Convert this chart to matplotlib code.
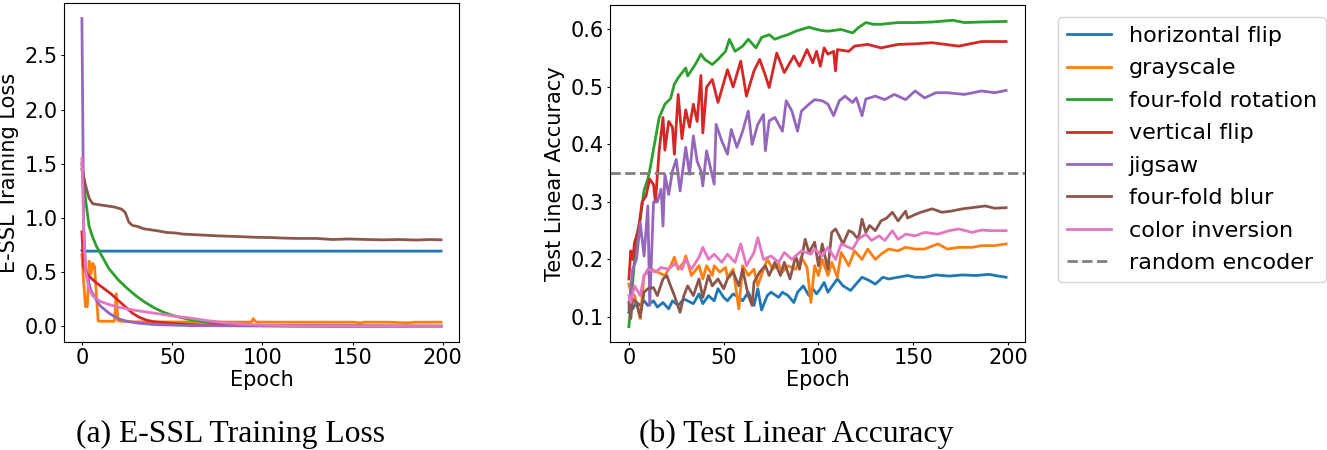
import matplotlib
matplotlib.use("Agg")
import matplotlib.pyplot as plt

plt.rcParams['font.family'] = ['DejaVu Sans']
plt.rcParams['font.size'] = 15
plt.rcParams['xtick.major.size'] = 2.5
plt.rcParams['ytick.major.size'] = 2.5
plt.rcParams['xtick.major.pad'] = 2
plt.rcParams['ytick.major.pad'] = 2

labels = ["horizontal flip", "grayscale", "four-fold rotation", "vertical flip",
          "jigsaw", "four-fold blur", "color inversion"]
colors = ["tab:blue", "tab:orange", "tab:green", "tab:red",
          "tab:purple", "tab:brown", "tab:pink"]

##### (a) training loss

hflip_loss_ep = [0, 1, 2, 199]
hflip_loss = [0.70, 0.695, 0.693, 0.693]

gray_loss_ep = [0, 1, 2, 3, 4, 5, 6, 7, 8, 9, 10, 14, 18, 19, 20, 22, 30, 40, 60, 80,
                94, 95, 96, 97, 110, 150, 155, 156, 170, 180, 185, 199]
gray_loss = [0.66, 0.40, 0.18, 0.18, 0.60, 0.48, 0.58, 0.55, 0.30, 0.05, 0.045, 0.045,
             0.045, 0.30, 0.05, 0.045, 0.04, 0.04, 0.038, 0.038, 0.038, 0.07, 0.045,
             0.038, 0.037, 0.037, 0.03, 0.037, 0.037, 0.03, 0.037, 0.037]

rot_loss_ep = [0, 1, 2, 4, 6, 8, 10, 15, 20, 25, 30, 35, 40, 45, 50, 55, 60, 70, 80,
               90, 100, 120, 199]
rot_loss = [1.5, 1.35, 1.17, 0.92, 0.82, 0.74, 0.68, 0.53, 0.43, 0.35, 0.28, 0.22,
            0.17, 0.13, 0.10, 0.08, 0.06, 0.035, 0.018, 0.01, 0.005, 0.002, 0.0]

vflip_loss_ep = [0, 1, 2, 4, 8, 12, 16, 20, 24, 28, 32, 36, 40, 50, 60, 80, 199]
vflip_loss = [0.87, 0.55, 0.50, 0.46, 0.40, 0.35, 0.30, 0.24, 0.18, 0.12, 0.08,
              0.055, 0.04, 0.025, 0.015, 0.005, 0.0]

jig_loss_ep = [0, 1, 2, 3, 5, 8, 10, 15, 20, 25, 30, 40, 60, 199]
jig_loss = [2.84, 0.9, 0.55, 0.45, 0.33, 0.24, 0.19, 0.12, 0.07, 0.045, 0.03,
            0.015, 0.005, -0.004]

blur_loss_ep = [0, 1, 2, 4, 6, 10, 14, 18, 22, 24, 26, 28, 31, 34, 38, 42, 47, 52, 56,
                62, 68, 75, 82, 90, 97, 105, 112, 120, 130, 139, 148, 158, 167, 176,
                185, 193, 199]
blur_loss = [1.45, 1.38, 1.30, 1.18, 1.13, 1.12, 1.11, 1.10, 1.08, 1.05, 0.96, 0.93,
             0.92, 0.90, 0.89, 0.88, 0.865, 0.86, 0.85, 0.845, 0.84, 0.834, 0.83,
             0.825, 0.82, 0.818, 0.813, 0.81, 0.81, 0.80, 0.805, 0.80, 0.797, 0.80,
             0.795, 0.80, 0.797]

inv_loss_ep = [0, 1, 2, 4, 6, 10, 15, 20, 25, 30, 40, 50, 60, 70, 80, 90, 100, 120, 199]
inv_loss = [1.55, 0.9, 0.5, 0.34, 0.28, 0.23, 0.20, 0.175, 0.16, 0.145, 0.12, 0.095,
            0.075, 0.05, 0.03, 0.018, 0.01, 0.003, -0.004]

##### (b) test linear accuracy

hflip_acc_ep = [0, 1, 2, 4, 6, 8, 10, 13, 15, 18, 21, 23, 26, 29, 31, 34, 37, 39, 42,
                45, 47, 50, 52, 55, 58, 60, 63, 66, 68, 70, 73, 75, 79, 81, 84, 87, 89,
                92, 95, 97, 99, 101, 103, 105, 108, 110, 113, 117, 119, 123, 127, 130,
                134, 137, 142, 147, 151, 156, 162, 169, 176, 183, 190, 195, 199]
hflip_acc = [0.108, 0.12, 0.114, 0.125, 0.12, 0.128, 0.12, 0.128, 0.117, 0.125, 0.114,
             0.128, 0.12, 0.131, 0.128, 0.123, 0.14, 0.123, 0.137, 0.128, 0.149, 0.134,
             0.128, 0.14, 0.134, 0.128, 0.143, 0.12, 0.149, 0.112, 0.137, 0.143, 0.134,
             0.143, 0.137, 0.125, 0.143, 0.154, 0.137, 0.149, 0.14, 0.149, 0.16, 0.143,
             0.157, 0.166, 0.154, 0.146, 0.154, 0.169, 0.163, 0.157, 0.169, 0.166,
             0.169, 0.172, 0.169, 0.169, 0.173, 0.171, 0.173, 0.172, 0.174, 0.171,
             0.169]

gray_acc_ep = [0, 1, 3, 5, 6, 8, 10, 12, 15, 19, 22, 24, 26, 29, 30, 33, 37, 39, 41, 44,
               45, 48, 51, 52, 55, 58, 60, 63, 66, 68, 71, 73, 76, 79, 81, 84, 88, 91,
               94, 96, 98, 100, 102, 105, 107, 110, 112, 116, 119, 123, 126, 130, 133,
               137, 142, 146, 151, 156, 163, 168, 174, 181, 186, 193, 199]
gray_acc = [0.157, 0.143, 0.137, 0.111, 0.097, 0.172, 0.178, 0.183, 0.178, 0.172,
            0.189, 0.204, 0.183, 0.195, 0.206, 0.172, 0.189, 0.166, 0.189, 0.172, 0.189,
            0.178, 0.186, 0.169, 0.183, 0.114, 0.189, 0.172, 0.183, 0.154, 0.183, 0.2,
            0.183, 0.192, 0.178, 0.189, 0.183, 0.204, 0.186, 0.125, 0.189, 0.172, 0.2,
            0.172, 0.195, 0.169, 0.212, 0.189, 0.215, 0.2, 0.218, 0.2, 0.209, 0.218,
            0.215, 0.221, 0.218, 0.218, 0.227, 0.218, 0.221, 0.221, 0.224, 0.224,
            0.227]

rot_acc_ep = [0, 2, 4, 6, 8, 10, 11, 14, 16, 19, 22, 24, 26, 30, 31, 35, 38, 40, 44,
              47, 51, 53, 56, 60, 63, 67, 70, 74, 77, 81, 84, 88, 91, 95, 98, 102, 105,
              112, 118, 121, 125, 129, 133, 142, 151, 160, 171, 177, 186, 199]
rot_acc = [0.083, 0.16, 0.24, 0.27, 0.32, 0.34, 0.355, 0.41, 0.447, 0.47, 0.48, 0.505,
           0.516, 0.533, 0.519, 0.539, 0.557, 0.548, 0.539, 0.548, 0.562, 0.583, 0.562,
           0.571, 0.583, 0.568, 0.586, 0.591, 0.583, 0.588, 0.591, 0.597, 0.6, 0.604,
           0.601, 0.598, 0.597, 0.6, 0.594, 0.603, 0.612, 0.609, 0.609, 0.612, 0.612,
           0.613, 0.616, 0.612, 0.613, 0.614]

vflip_acc_ep = [0, 1, 2, 3, 5, 7, 9, 11, 13, 14, 16, 18, 19, 21, 23, 24, 26, 28, 30,
                32, 34, 36, 38, 39, 41, 44, 47, 50, 52, 55, 59, 62, 66, 69, 72, 74, 78,
                82, 87, 90, 94, 97, 99, 101, 103, 105, 108, 109, 110, 116, 119, 126,
                133, 142, 151, 160, 174, 186, 199]
vflip_acc = [0.166, 0.215, 0.20, 0.23, 0.25, 0.30, 0.31, 0.34, 0.33, 0.30, 0.39, 0.447,
             0.39, 0.44, 0.43, 0.383, 0.487, 0.41, 0.46, 0.43, 0.47, 0.44, 0.52, 0.42,
             0.50, 0.513, 0.473, 0.507, 0.53, 0.50, 0.545, 0.484, 0.528, 0.548, 0.52,
             0.499, 0.559, 0.525, 0.554, 0.536, 0.565, 0.542, 0.562, 0.536, 0.568,
             0.557, 0.562, 0.528, 0.565, 0.562, 0.571, 0.574, 0.568, 0.574, 0.575,
             0.577, 0.571, 0.579, 0.579]

jig_acc_ep = [0, 2, 4, 6, 8, 10, 11, 13, 15, 17, 18, 19, 21, 23, 25, 27, 30, 32, 34, 36,
              38, 39, 41, 43, 45, 46, 49, 52, 54, 57, 60, 63, 65, 68, 71, 72, 74, 77,
              81, 83, 86, 89, 91, 95, 98, 102, 105, 108, 111, 114, 118, 120, 123, 125,
              130, 135, 140, 146, 151, 156, 162, 168, 177, 186, 193, 199]
jig_acc = [0.114, 0.183, 0.20, 0.264, 0.206, 0.293, 0.12, 0.30, 0.30, 0.322, 0.258,
           0.348, 0.313, 0.354, 0.374, 0.319, 0.395, 0.348, 0.415, 0.371, 0.354, 0.328,
           0.389, 0.36, 0.331, 0.435, 0.406, 0.383, 0.426, 0.395, 0.423, 0.458, 0.40,
           0.435, 0.452, 0.389, 0.441, 0.447, 0.423, 0.476, 0.458, 0.423, 0.458, 0.47,
           0.478, 0.476, 0.47, 0.45, 0.476, 0.484, 0.473, 0.481, 0.45, 0.479, 0.484,
           0.478, 0.487, 0.478, 0.493, 0.481, 0.49, 0.49, 0.487, 0.493, 0.49, 0.494]

blur_acc_ep = [0, 1, 2, 4, 6, 8, 10, 13, 15, 18, 20, 22, 24, 27, 29, 31, 34, 37, 39,
               42, 44, 47, 50, 52, 55, 58, 60, 63, 65, 66, 69, 72, 74, 77, 80, 82, 85,
               88, 90, 93, 95, 98, 100, 102, 105, 107, 109, 110, 113, 116, 118, 121,
               123, 125, 127, 130, 133, 136, 139, 142, 146, 147, 151, 154, 160, 165,
               170, 176, 181, 188, 193, 199]
blur_acc = [0.125, 0.097, 0.131, 0.125, 0.10, 0.143, 0.149, 0.151, 0.137, 0.166,
            0.172, 0.154, 0.137, 0.108, 0.137, 0.154, 0.137, 0.166, 0.134, 0.172,
            0.154, 0.166, 0.149, 0.166, 0.178, 0.154, 0.183, 0.137, 0.12, 0.16, 0.178,
            0.189, 0.172, 0.195, 0.172, 0.195, 0.166, 0.206, 0.183, 0.235, 0.212, 0.23,
            0.189, 0.227, 0.183, 0.247, 0.253, 0.247, 0.227, 0.25, 0.247, 0.235, 0.27,
            0.247, 0.259, 0.25, 0.267, 0.272, 0.282, 0.267, 0.284, 0.272, 0.278,
            0.282, 0.288, 0.282, 0.284, 0.288, 0.29, 0.293, 0.289, 0.29]

inv_acc_ep = [0, 1, 3, 6, 8, 10, 14, 17, 21, 24, 28, 30, 33, 37, 39, 42, 45, 49, 52,
              56, 59, 62, 66, 68, 71, 75, 79, 82, 86, 91, 96, 98, 102, 105, 109, 112,
              118, 121, 125, 128, 132, 135, 139, 142, 146, 151, 156, 163, 169, 174,
              181, 186, 191, 199]
inv_acc = [0.137, 0.125, 0.154, 0.137, 0.172, 0.183, 0.178, 0.186, 0.183, 0.192,
           0.183, 0.2, 0.183, 0.204, 0.221, 0.2, 0.209, 0.195, 0.209, 0.195, 0.227,
           0.189, 0.212, 0.238, 0.2, 0.206, 0.195, 0.212, 0.2, 0.215, 0.209, 0.218,
           0.206, 0.221, 0.2, 0.227, 0.218, 0.235, 0.244, 0.233, 0.241, 0.233, 0.25,
           0.235, 0.244, 0.241, 0.247, 0.244, 0.25, 0.253, 0.247, 0.251, 0.25, 0.25]

random_encoder = 0.35

loss_eps = [hflip_loss_ep, gray_loss_ep, rot_loss_ep, vflip_loss_ep, jig_loss_ep,
            blur_loss_ep, inv_loss_ep]
losses = [hflip_loss, gray_loss, rot_loss, vflip_loss, jig_loss, blur_loss, inv_loss]
acc_eps = [hflip_acc_ep, gray_acc_ep, rot_acc_ep, vflip_acc_ep, jig_acc_ep,
           blur_acc_ep, inv_acc_ep]
accs = [hflip_acc, gray_acc, rot_acc, vflip_acc, jig_acc, blur_acc, inv_acc]

fig = plt.figure(figsize=(13.27, 4.5), dpi=100)

##### left: loss

ax1 = fig.add_axes([0.0482, 0.24, 0.2977, 0.753])
for ep, y, c, lab in zip(loss_eps, losses, colors, labels):
    ax1.plot(ep, y, color=c, lw=2, label=lab)
ax1.set_xlabel("Epoch", labelpad=1)
ax1.set_ylabel("E-SSL Training Loss")
ax1.set_xticks([0, 50, 100, 150, 200])
ax1.set_yticks([0.0, 0.5, 1.0, 1.5, 2.0, 2.5])

##### right: accuracy

ax2 = fig.add_axes([0.4597, 0.24, 0.3127, 0.749])
for ep, y, c, lab in zip(acc_eps, accs, colors, labels):
    ax2.plot(ep, y, color=c, lw=2, label=lab)
ax2.axhline(random_encoder, color="grey", ls="--", lw=2, label="random encoder")
ax2.set_xlabel("Epoch", labelpad=1)
ax2.set_ylabel("Test Linear Accuracy")
ax2.set_xticks([0, 50, 100, 150, 200])
ax2.set_yticks([0.1, 0.2, 0.3, 0.4, 0.5, 0.6])

handles, labs = ax2.get_legend_handles_labels()
fig.legend(handles, labs, loc="upper left", bbox_to_anchor=(0.797, 0.962),
           borderaxespad=0, fontsize=16, labelspacing=0.56)

##### captions under each panel

fig.text(0.174, 0.035, "(a) E-SSL Training Loss", ha="center", va="center",
         family="Liberation Serif", fontsize=22.8)
fig.text(0.600, 0.035, "(b) Test Linear Accuracy", ha="center", va="center",
         family="Liberation Serif", fontsize=22.8)

plt.savefig("out.png", dpi=100)
